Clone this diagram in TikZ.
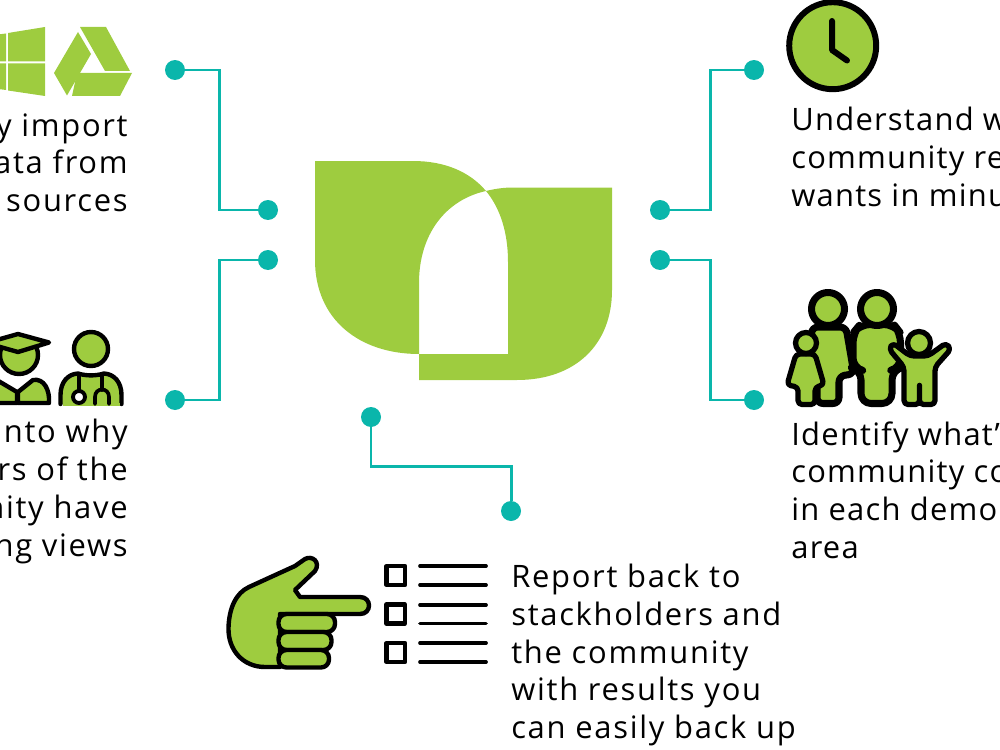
\documentclass[tikz,border=0pt]{standalone}
\usepackage{fontspec}
\setmainfont[LetterSpace=5.5]{Open Sans}
\definecolor{leafgreen}{HTML}{9ECC3F}
\definecolor{linkteal}{HTML}{0AB6AB}
\tikzset{
    dot/.style={circle,fill=linkteal,inner sep=0pt,minimum size=0.4cm},
    link/.style={draw=linkteal,line width=1.7pt},
    caption/.style={inner sep=0pt,font=\fontsize{17.6}{21.55}\selectfont},
    tight caption/.style={caption,font=\fontsize{17.6}{21.55}\selectfont\addfontfeature{LetterSpace=4}},
    icon/.style={draw=black,fill=leafgreen,line width=2.5pt,line join=round,line cap=round},
    family icon/.style={icon,line width=4pt,rounded corners=0.12cm},
    child icon/.style={icon,line width=3pt,rounded corners=0.08cm},
    rule line/.style={draw=black,line width=2.1pt,line cap=round},
    tick box/.style={draw=black,line width=2.4pt,line join=round}
}

\begin{document}
\begin{tikzpicture}[x=0.02cm,y=-0.02cm]
    \clip (0,0) rectangle (1000,750);

    % logo
    \fill[leafgreen] (315,161) -- (413,161) .. controls (445,161) and (470,172) .. (486,191)
        .. controls (445,200) and (419,235) .. (419,283) -- (419,354)
        .. controls (360,354) and (315,320) .. (315,260) -- cycle;
    \fill[leafgreen] (486,191) .. controls (494,189) and (503,187.5) .. (513,187.5) -- (612,187.5) -- (612,290)
        .. controls (612,345) and (575,380) .. (517,380) -- (419,380) -- (419,354) -- (508,354) -- (508,262)
        .. controls (508,232) and (500,208) .. (486,191) -- cycle;

    % connectors
    \node[dot] (importa) at (175,70) {};
    \node[dot] (importb) at (268,210) {};
    \coordinate (importe) at (219.5,140);
    \draw[link] (importa) -| (importe) |- (importb);

    \node[dot] (viewsa) at (175,400) {};
    \node[dot] (viewsb) at (268,260) {};
    \coordinate (viewse) at (219.5,330);
    \draw[link] (viewsa) -| (viewse) |- (viewsb);

    \node[dot] (wantsa) at (754,70) {};
    \node[dot] (wantsb) at (660,210) {};
    \coordinate (wantse) at (710.5,140);
    \draw[link] (wantsa) -| (wantse) |- (wantsb);

    \node[dot] (demoa) at (754,400) {};
    \node[dot] (demob) at (660,260) {};
    \coordinate (demoe) at (710.5,330);
    \draw[link] (demoa) -| (demoe) |- (demob);

    \node[dot] (reporta) at (371,417) {};
    \node[dot] (reportb) at (511,511) {};
    \coordinate (reporte) at (441,466.5);
    \draw[link] (reporta) |- (reporte) -| (reportb);

    % windows and drive icons
    \fill[leafgreen] (8,33) -- (45,27) -- (45,61.5) -- (8,61.5) -- cycle;
    \fill[leafgreen] (8,63.5) -- (45,63.5) -- (45,96) -- (8,90.5) -- cycle;
    \fill[leafgreen] (-2,34.5) -- (6,33.5) -- (6,61.5) -- (-2,61.5) -- cycle;
    \fill[leafgreen] (-2,63.5) -- (6,63.5) -- (6,90) -- (-2,89) -- cycle;
    \fill[leafgreen] (80,27) -- (106,27) -- (130,71) -- (105,71) -- cycle;
    \fill[leafgreen] (78,32) -- (91,54) -- (67,95.5) -- (54,73) -- cycle;
    \fill[leafgreen] (77,73) -- (132,73) -- (120,96) -- (72,96) -- cycle;

    % clock
    \draw[icon,line width=3.4pt] (832.7,45.7) circle (43.5);
    \draw[rule line,line width=3.4pt,line join=round] (832,21) -- (832,50) -- (847,60.5);

    % graduate
    \draw[icon] (-10,376) -- (17,392) -- (17,403) -- (-10,403);
    \draw[icon] (18,392) -- (33,380) .. controls (44,378) and (50,390) .. (49,403) -- (18,403) -- cycle;
    \draw[icon] (19,355) circle (19);
    \draw[icon] (-14,343) -- (18,334) -- (49,342.5) -- (18,352) -- cycle;

    % doctor
    \draw[icon] (91,349) circle (17);
    \draw[icon,fill=leafgreen] (60.5,404) -- (60.5,395) .. controls (60.5,382) and (68,374) .. (78,373.5)
        .. controls (86,376) and (96,376) .. (104,373.5)
        .. controls (114,374) and (121.5,382) .. (121.5,395) -- (121.5,404);
    \fill[leafgreen] (62.5,403) rectangle (119.5,405.5);
    \draw[rule line] (79,375) -- (79,391);
    \draw[icon,fill=white,line width=2.2pt] (79,397) circle (6);
    \draw[rule line] (102,375) -- (102,390);
    \draw[rule line] (95,404) -- (95,397) .. controls (95,387) and (109,387) .. (109,397) -- (109,404);

    % family
    \draw[family icon] (812,327) -- (846,327) -- (854,374) -- (839,376) -- (839,403.5) -- (817,403.5) -- (817,376) -- (810,350) -- cycle;
    \draw[icon,line width=4pt] (828,309) circle (16.5);
    \draw[family icon,rounded corners=0.2cm] (853,333) -- (860,324.5) -- (894,324.5) -- (900.5,333) -- (900.5,368) -- (892,370) -- (892,403.5) -- (861,403.5) -- (861,370) -- (853,368) -- cycle;
    \draw[icon,line width=4pt] (877,309) circle (16.5);
    \draw[child icon] (796,354) -- (815,354) -- (824,385) -- (815,387) -- (815,404.5) -- (798,404.5) -- (798,387) -- (787,385) -- cycle;
    \draw[icon,line width=3pt] (806,343) circle (10.5);
    \draw[child icon] (893,343) -- (910,356) -- (928,356) -- (946,343) -- (951,349) -- (935,367) -- (935,404.5) -- (919.5,404.5) -- (919.5,383) -- (919.5,404.5) -- (904,404.5) -- (904,367) -- (889,349) -- cycle;
    \draw[icon,line width=3pt] (919,343) circle (11.5);

    % hand
    \draw[icon] (280,667) -- (265,667) .. controls (243,667) and (228,650) .. (228.5,628)
        .. controls (229,608) and (236,593) .. (249,587) -- (295,566) -- (305,559)
        .. controls (312,555) and (321,562) .. (315,571)
        -- (295,590) -- (300,597) -- (360,597) .. controls (372,597) and (372,614) .. (360,614) -- (280,614) -- cycle;
    \draw[icon,rounded corners=0.16cm] (278.5,614) rectangle (335,632);
    \draw[icon,rounded corners=0.16cm] (278.5,632) rectangle (331.5,650);
    \draw[icon,rounded corners=0.16cm] (278.5,650) rectangle (329,667.5);

    % checklist
    \draw[tick box] (386.5,566) rectangle (405,585);
    \draw[tick box] (386.5,604.5) rectangle (405,623.5);
    \draw[tick box] (386.5,643) rectangle (405,662);
    \draw[rule line] (420,566) -- (486,566);
    \draw[rule line] (420,585) -- (486,585);
    \draw[rule line] (420,605) -- (486,605);
    \draw[rule line] (420,623.5) -- (486,623.5);
    \draw[rule line] (420,643) -- (486,643);
    \draw[rule line] (420,662) -- (486,662);

    % captions
    \node[caption,anchor=north east,align=right] (importtext) at (128,113) {y import\\ata from\\sources};
    \node[caption,anchor=north east,align=right] (viewstext) at (128,419) {into why\\rs of the\\nity have\\ng views};
    \node[tight caption,anchor=north west,align=left] (wantstext) at (791,107) {Understand w\\community re\\wants in minu};
    \node[tight caption,anchor=north west,align=left] (demotext) at (791,421) {Identify what’\\community co\\in each demo\\area};
    \node[caption,anchor=north west,align=left] (reporttext) at (511,563.5) {Report back to\\stackholders and\\the community\\with results you\\can easily back up};
\end{tikzpicture}
\end{document}
